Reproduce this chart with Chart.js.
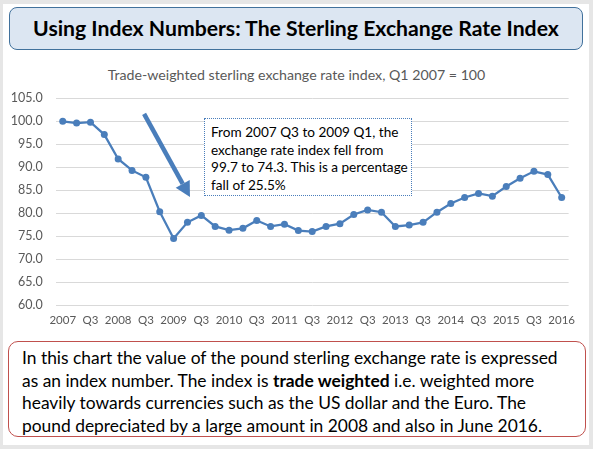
<!DOCTYPE html>
<html>
<head>
<meta charset="utf-8">
<script src="https://cdn.jsdelivr.net/npm/chart.js@4"></script>
<style>
  html, body { margin: 0; padding: 0; }
  body { width: 593px; height: 449px; background: #e6e6e6; position: relative; overflow: hidden; font-family: Lato, "Open Sans", sans-serif; }
  #page { position: absolute; left: 3px; top: 4px; width: 586px; height: 441px; background: #ffffff; }
  #title { position: absolute; left: 9px; top: 7px; width: 572px; height: 41px; background: #dce6f2; border: 1.5px solid #41719c; border-radius: 8px; text-align: center; line-height: 41px; font-weight: bold; font-size: 21.2px; color: #000; white-space: nowrap; }
  #subtitle { position: absolute; left: 0; top: 66px; width: 593px; text-align: center; font-size: 14.2px; color: #595959; white-space: nowrap; }
  #chartWrap { position: absolute; left: 0; top: 85px; width: 593px; height: 250px; }
  #note { position: absolute; left: 204px; top: 118px; width: 208px; height: 78px; border: 1.5px dotted #4a7ebb; background: #fff; font-size: 13.6px; line-height: 17.5px; color: #000; padding: 5px 0 0 6px; box-sizing: border-box; white-space: nowrap; }
  #textbox { position: absolute; left: 8px; top: 341px; width: 578px; height: 96px; border: 1.5px solid #c0504d; border-radius: 10px; box-sizing: border-box; padding: 5px 0 0 13px; font-size: 17.4px; line-height: 22.5px; color: #000; white-space: nowrap; }
</style>
</head>
<body>
<div id="page"></div>
<div id="title">Using Index Numbers: The Sterling Exchange Rate Index</div>
<div id="subtitle">Trade-weighted sterling exchange rate index, Q1 2007 = 100</div>
<div id="chartWrap"><canvas id="c"></canvas></div>
<div id="note">From 2007 Q3 to 2009 Q1, the<br>exchange rate index fell from<br>99.7 to 74.3. This is a percentage<br>fall of 25.5%</div>
<div id="textbox">In this chart the value of the pound sterling exchange rate is expressed<br>as an index number. The index is <b>trade weighted</b> i.e. weighted more<br>heavily towards currencies such as the US dollar and the Euro. The<br>pound depreciated by a large amount in 2008 and also in June 2016.</div>
<script>
const categories = [
  '2007','','Q3','',
  '2008','','Q3','',
  '2009','','Q3','',
  '2010','','Q3','',
  '2011','','Q3','',
  '2012','','Q3','',
  '2013','','Q3','',
  '2014','','Q3','',
  '2015','','Q3','',
  '2016'
];
const indexValues = [
  100.0, 99.6, 99.8, 97.1,
  91.8, 89.3, 87.8, 80.3,
  74.5, 78.0, 79.5, 77.1,
  76.3, 76.7, 78.4, 77.1,
  77.6, 76.2, 76.0, 77.1,
  77.7, 79.7, 80.7, 80.2,
  77.1, 77.4, 78.0, 80.2,
  82.1, 83.4, 84.3, 83.7,
  85.8, 87.6, 89.1, 88.4,
  83.4
];
const yMin = 60, yMax = 105, yStep = 5;
// arrow annotation anchored in data space: [category index, value]
const arrowFrom = [5.87, 101.6];
const arrowTo = [9.18, 83.5];
const seriesColor = '#4a7ebb';

const arrowPlugin = {
  id: 'arrow',
  afterDatasetsDraw(chart) {
    const x = chart.scales.x, y = chart.scales.y, ctx = chart.ctx;
    const x1 = x.getPixelForValue(arrowFrom[0]), y1 = y.getPixelForValue(arrowFrom[1]);
    const x2 = x.getPixelForValue(arrowTo[0]), y2 = y.getPixelForValue(arrowTo[1]);
    const ang = Math.atan2(y2 - y1, x2 - x1);
    const headLen = 15, headW = 8;
    const bx = x2 - headLen * Math.cos(ang), by = y2 - headLen * Math.sin(ang);
    ctx.save();
    ctx.strokeStyle = seriesColor; ctx.fillStyle = seriesColor;
    ctx.lineWidth = 4.5; ctx.lineCap = 'butt';
    ctx.beginPath(); ctx.moveTo(x1, y1); ctx.lineTo(bx, by); ctx.stroke();
    ctx.beginPath();
    ctx.moveTo(x2, y2);
    ctx.lineTo(bx + headW * Math.sin(ang), by - headW * Math.cos(ang));
    ctx.lineTo(bx - headW * Math.sin(ang), by + headW * Math.cos(ang));
    ctx.closePath(); ctx.fill();
    ctx.restore();
  }
};

Chart.defaults.font.family = 'Lato, "Open Sans", sans-serif';
new Chart(document.getElementById('c'), {
  type: 'line',
  data: {
    labels: categories,
    datasets: [{
      data: indexValues,
      borderColor: seriesColor,
      backgroundColor: seriesColor,
      borderWidth: 2.25,
      tension: 0,
      pointRadius: 3.5,
      pointBorderWidth: 0,
      pointBackgroundColor: seriesColor,
      pointHoverRadius: 3.5
    }]
  },
  options: {
    responsive: true,
    maintainAspectRatio: false,
    animation: false,
    events: [],
    layout: { padding: { left: 0, top: 13.3, right: 24.4, bottom: 0 } },
    plugins: { legend: { display: false }, tooltip: { enabled: false } },
    scales: {
      x: {
        offset: true,
        grid: { display: false, drawTicks: false },
        border: { display: false },
        ticks: { autoSkip: false, maxRotation: 0, minRotation: 0, color: '#595959', font: { size: 11.5 }, padding: 8 },
        afterFit(scale) { scale.height = 30; }
      },
      y: {
        min: yMin, max: yMax,
        grid: { color: '#d9d9d9', lineWidth: 1, drawTicks: false },
        border: { display: false },
        ticks: { stepSize: yStep, color: '#595959', font: { size: 12.5 }, padding: 13,
                 callback: v => Number(v).toFixed(1) },
        afterFit(scale) { scale.width = 55.8; scale.paddingTop = 0; scale.paddingBottom = 0; }
      }
    }
  },
  plugins: [arrowPlugin]
});
</script>
</body>
</html>
